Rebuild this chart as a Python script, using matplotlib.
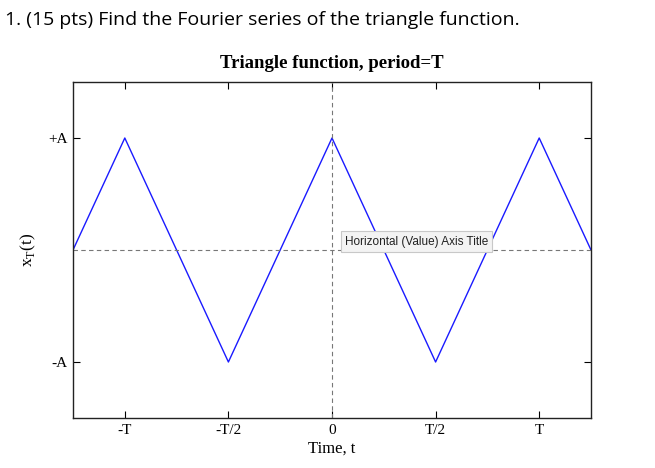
import matplotlib
matplotlib.use("Agg")
import matplotlib.pyplot as plt

# Data (in units of T and A)
t_pts = [-1.25, -1.0, -0.5, 0.0, 0.5, 1.0, 1.25]
x_pts = [0, 1, -1, 1, -1, 1, 0]
xtick_vals = [-1.0, -0.5, 0.0, 0.5, 1.0]
xtick_labels = ["-T", "-T/2", "0", "T/2", "T"]
ytick_vals = [-1, 1]
ytick_labels = ["-A", "+A"]

serif = ["Liberation Serif", "DejaVu Serif"]

fig = plt.figure(figsize=(6.55, 4.68), dpi=100)
ax = fig.add_axes([73/655, 1-418/468, (591-73)/655, (418-82)/468])

ax.plot(t_pts, x_pts, color="#1a1aff", lw=1.0)
ax.axhline(0, color="#777777", lw=0.8, ls=(0, (4, 3)))
ax.axvline(0, color="#777777", lw=0.8, ls=(0, (4, 3)))

ax.set_xlim(-1.25, 1.25)
ax.set_ylim(-1.5, 1.5)
ax.set_xticks(xtick_vals)
ax.set_xticklabels(xtick_labels, family=serif, fontsize=11)
ax.set_yticks(ytick_vals)
ax.set_yticklabels(ytick_labels, family=serif, fontsize=11)
ax.tick_params(direction="in", top=True, right=True, length=5, width=0.8, pad=4)
for s in ax.spines.values():
    s.set_linewidth(1.0)
    s.set_color("#222222")

ax.set_xlabel("Time, t", family=serif, fontsize=12, labelpad=3)
ax.set_ylabel(r"x$_\mathregular{T}$(t)", family=serif, fontsize=12.5)
ax.yaxis.set_label_coords((38 - 73) / (591 - 73), 0.5)
ax.set_title("Triangle function, period=T", family=serif, fontsize=13.5,
             fontweight="bold", pad=10)

fig.text(5/655, 1-20/468, "1. (15 pts) Find the Fourier series of the triangle function.",
         family=["Open Sans", "DejaVu Sans"], fontsize=14, va="center", ha="left")

# tooltip-like box
fig.text(345/655, 1-241.5/468, "Horizontal (Value) Axis Title",
         family=["Liberation Sans", "DejaVu Sans"], fontsize=8.5, va="center", ha="left",
         color="#222222",
         bbox=dict(boxstyle="square,pad=0.35", fc="#f3f3f3", ec="#c8c8c8", lw=0.8))

fig.savefig("out.png", dpi=100)
